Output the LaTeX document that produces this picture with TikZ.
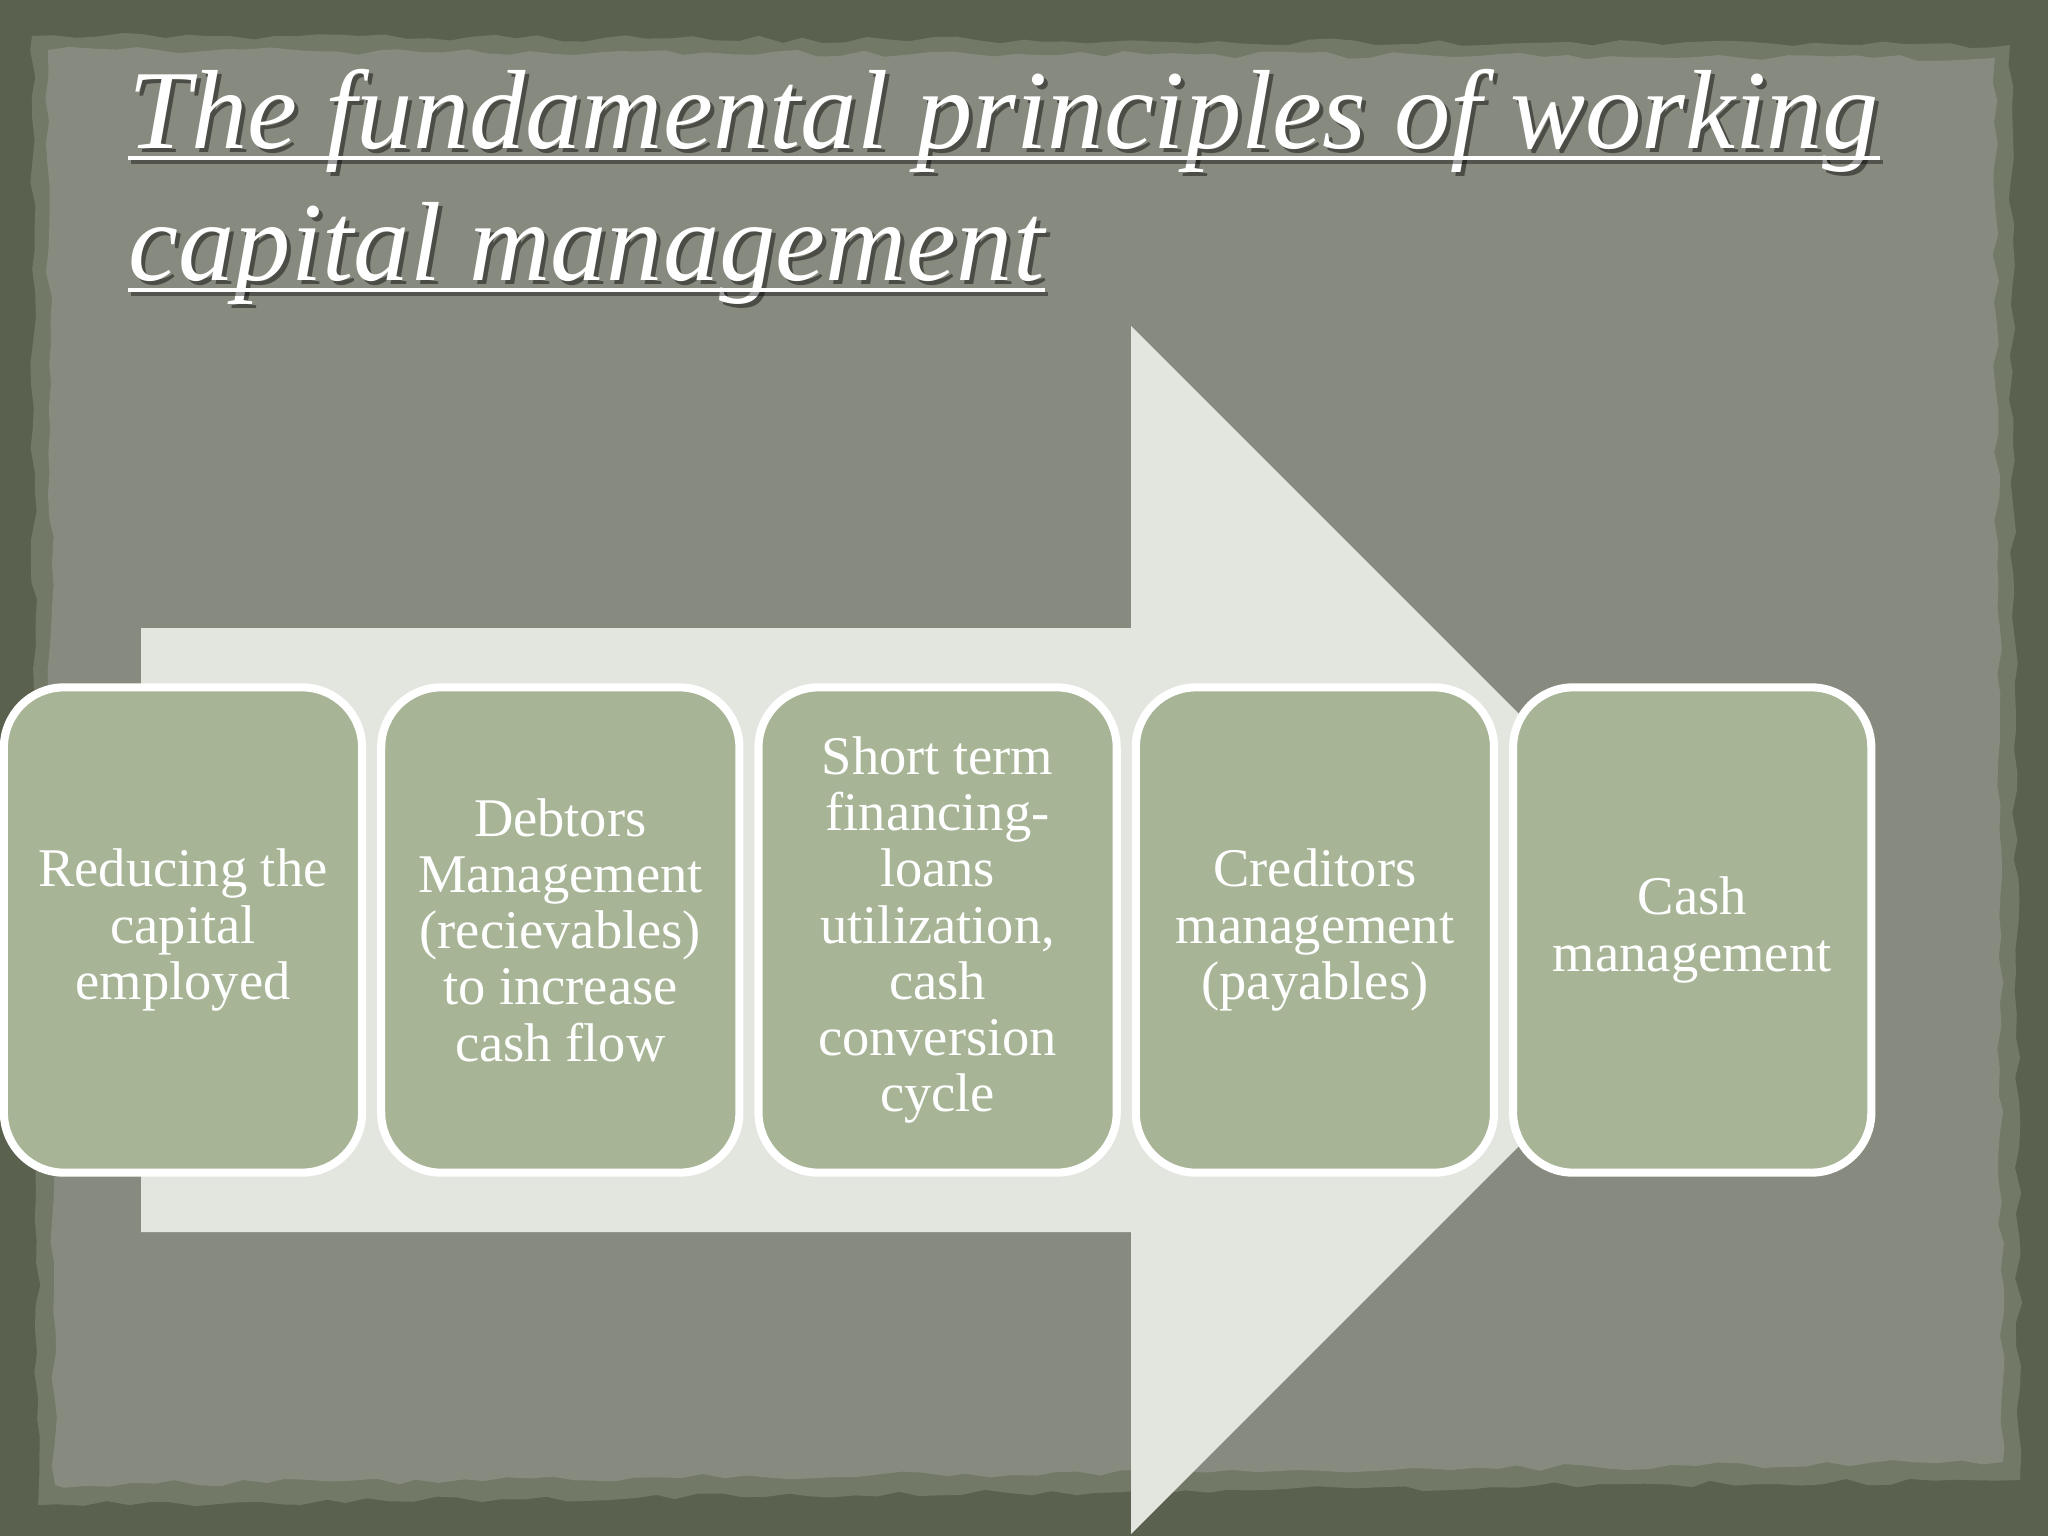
\documentclass[tikz,border=0pt]{standalone}
\usepackage{fontspec}
\setmainfont{Liberation Serif}
\usepackage{tikz}
\usetikzlibrary{positioning}
\usetikzlibrary{decorations.pathmorphing}

\definecolor{frameolive}{HTML}{5A624F}
\definecolor{edgeolive}{HTML}{727966}
\definecolor{paper}{HTML}{878B7F}
\definecolor{arrowgrey}{HTML}{E3E6DF}
\definecolor{sage}{HTML}{A7B596}

\begin{document}
\begin{tikzpicture}[x=0.01cm, y=-0.01cm, node distance=0.11cm,
	stage/.style={draw=white, line width=2.3pt, fill=sage, rounded corners=0.6cm,
		minimum width=3.58cm, minimum height=4.85cm, inner sep=0pt,
		align=center, text=white, font=\fontsize{15.5}{16}\selectfont},
	heading/.style={anchor=base west, inner sep=0pt, font=\fontsize{32}{38}\selectfont\itshape},
	torn/.style={decorate, decoration={random steps, segment length=0.22cm, amplitude=0.035cm}}]
	\useasboundingbox (0,0) rectangle (2048,1536);
	
	% torn paper on a dark board
	\fill [frameolive] (0,0) rectangle (2048,1536);
	\pgfmathsetseed{7}
	\fill [edgeolive, torn] (32,36) -- (2010,45) -- (2020,1480) -- (38,1505) -- cycle;
	\fill [paper, torn] (48,50) -- (1995,58) -- (2003,1462) -- (55,1485) -- cycle;
	
	% the big arrow behind the boxes
	\fill [arrowgrey] (141,628) -- (1131,628) -- (1131,326) -- (1735,930)
		-- (1131,1534) -- (1131,1232) -- (141,1232) -- cycle;
	
	% title, with its shadow and underline
	\foreach \n/\y/\txt in {1/148/The fundamental principles of working, 2/280/capital management}{
		\node [heading, text=black, opacity=0.45] at (132,\y+4) {\txt};
		\node [heading, text=white] (title\n) at (128,\y) {\txt};
		\draw [black, opacity=0.4, line width=1.2pt] ([xshift=0.03cm, yshift=-0.14cm]title\n.base west) -- ([xshift=0.03cm, yshift=-0.14cm]title\n.base east);
		\draw [white, line width=1.2pt] ([yshift=-0.1cm]title\n.base west) -- ([yshift=-0.1cm]title\n.base east);
	}
	
	% the five steps
	\node [stage] (box1) at (183,930) {Reducing the\\capital\\employed};
	\node [stage, right=of box1] (box2) {Debtors\\Management\\(recievables)\\to increase\\cash flow};
	\node [stage, right=of box2] (box3) {Short term\\financing-\\loans\\utilization,\\cash\\conversion\\cycle};
	\node [stage, right=of box3] (box4) {Creditors\\management\\(payables)};
	\node [stage, right=of box4] (box5) {Cash\\management};
\end{tikzpicture}
\end{document}
